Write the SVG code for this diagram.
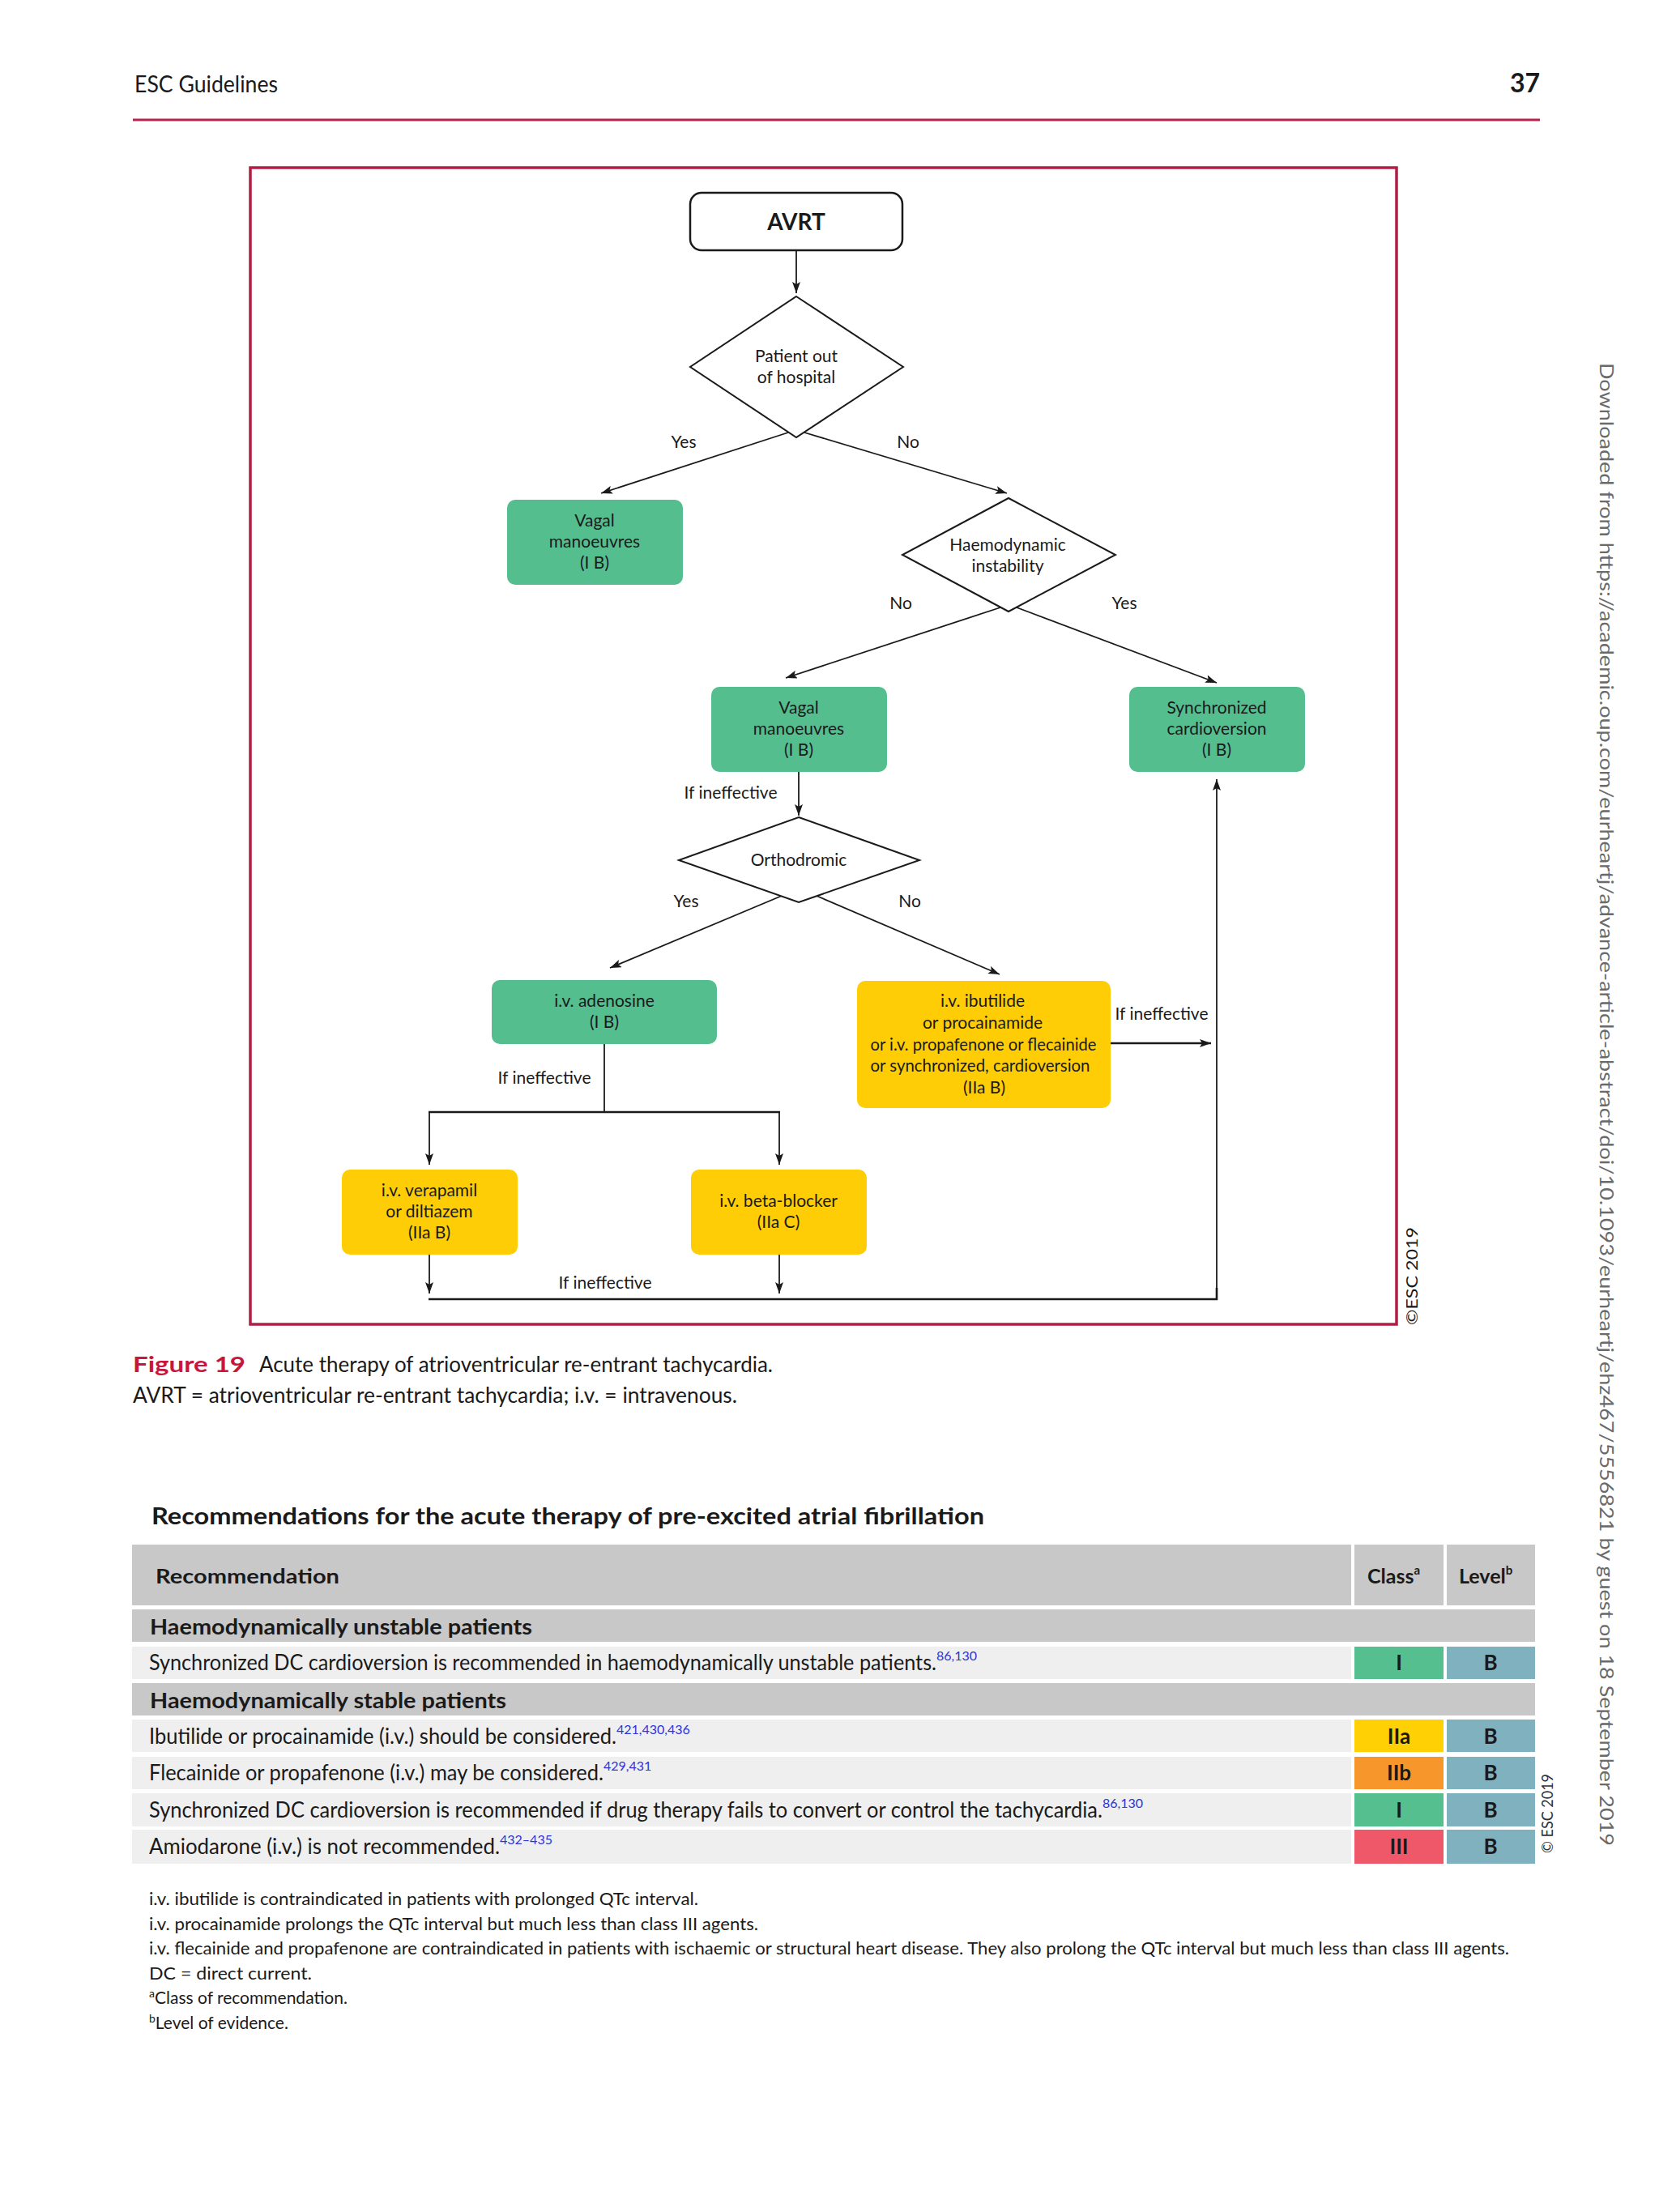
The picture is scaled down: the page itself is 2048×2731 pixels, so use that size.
<svg xmlns="http://www.w3.org/2000/svg" width="2048" height="2731" viewBox="0 0 2048 2731">
<defs>
<style>
text{font-family:Lato,"Liberation Sans",sans-serif;fill:#1a1a1a}
.ft{font-size:21px;text-anchor:middle}
.lbl{font-size:21px;text-anchor:middle}
.box-g{fill:#55be8f}
.box-y{fill:#fecd06}
.dia{fill:#fff;stroke:#1a1a1a;stroke-width:2}
.ln{fill:none;stroke:#1a1a1a;stroke-width:1.8}
.lnb{fill:none;stroke:#1a1a1a;stroke-width:2.6}
.row{font-size:26px}
.sec{font-size:27px;font-weight:bold}
.sup{font-size:16px;fill:#2b35d8}
.cell{font-size:26px;font-weight:bold;text-anchor:middle}
.fn{font-size:21px}
</style>
<marker id="ah" viewBox="0 0 14 10" refX="14" refY="5" markerWidth="14" markerHeight="10" markerUnits="userSpaceOnUse" orient="auto">
<path d="M0,0 L14,5 L0,10 L3,5 z" fill="#1a1a1a"/>
</marker>
</defs>
<rect width="2048" height="2731" fill="#fff"/>

<!-- page header -->
<text x="166" y="114" font-size="28" textLength="177" lengthAdjust="spacingAndGlyphs">ESC Guidelines</text>
<text x="1901" y="114" font-size="32" font-weight="bold" text-anchor="end">37</text>
<line x1="164" y1="148" x2="1901" y2="148" stroke="#b5234f" stroke-width="3"/>

<!-- watermark -->
<text transform="translate(1975,448) rotate(90)" font-size="23" style="fill:#6a6a6a" textLength="1831" lengthAdjust="spacingAndGlyphs">Downloaded from https://academic.oup.com/eurheartj/advance-article-abstract/doi/10.1093/eurheartj/ehz467/5556821 by guest on 18 September 2019</text>

<!-- figure frame -->
<rect x="309" y="207" width="1415" height="1428" fill="none" stroke="#b01e45" stroke-width="3.5"/>
<text transform="translate(1750,1636) rotate(-90)" font-size="20" textLength="121" lengthAdjust="spacingAndGlyphs">©ESC 2019</text>

<!-- connectors -->
<g id="connectors">
<line class="ln" x1="983" y1="309" x2="983" y2="362" marker-end="url(#ah)"/>
<line class="ln" x1="973" y1="534" x2="742" y2="609" marker-end="url(#ah)"/>
<line class="ln" x1="993" y1="534" x2="1243" y2="609" marker-end="url(#ah)"/>
<line class="ln" x1="1235" y1="750" x2="970" y2="837" marker-end="url(#ah)"/>
<line class="ln" x1="1255" y1="750" x2="1502" y2="843" marker-end="url(#ah)"/>
<line class="ln" x1="986" y1="953" x2="986" y2="1007" marker-end="url(#ah)"/>
<line class="ln" x1="965" y1="1106" x2="753" y2="1195" marker-end="url(#ah)"/>
<line class="ln" x1="1008" y1="1106" x2="1234" y2="1203" marker-end="url(#ah)"/>
<line class="ln" x1="746" y1="1289" x2="746" y2="1373"/>
<line class="lnb" x1="529" y1="1373" x2="963" y2="1373"/>
<line class="ln" x1="530" y1="1373" x2="530" y2="1438" marker-end="url(#ah)"/>
<line class="ln" x1="962" y1="1373" x2="962" y2="1438" marker-end="url(#ah)"/>
<line class="lnb" x1="1371" y1="1288" x2="1495" y2="1288" marker-end="url(#ah)"/>
<line class="ln" x1="530" y1="1549" x2="530" y2="1597" marker-end="url(#ah)"/>
<line class="ln" x1="962" y1="1549" x2="962" y2="1597" marker-end="url(#ah)"/>
<polyline class="lnb" points="529,1604 1502,1604 1502,1590"/>
<line class="ln" x1="1502" y1="1604" x2="1502" y2="962" marker-end="url(#ah)"/>
<text class="lbl" x="844" y="553">Yes</text>
<text class="lbl" x="1121" y="553">No</text>
<text class="lbl" x="1112" y="752">No</text>
<text class="lbl" x="1388" y="752">Yes</text>
<text class="lbl" x="902" y="986">If ineffective</text>
<text class="lbl" x="847" y="1120">Yes</text>
<text class="lbl" x="1123" y="1120">No</text>
<text class="lbl" x="1434" y="1259">If ineffective</text>
<text class="lbl" x="672" y="1338">If ineffective</text>
<text class="lbl" x="747" y="1591">If ineffective</text>
</g>

<!-- nodes -->
<g id="n-avrt">
<rect x="852" y="238" width="262" height="71" rx="14" fill="#fff" stroke="#1a1a1a" stroke-width="2.5"/>
<text x="983" y="284" font-size="28" font-weight="bold" text-anchor="middle">AVRT</text>
</g>
<g id="n-out-of-hospital">
<polygon class="dia" points="983,366 1115,453 983,540 852,453"/>
<text class="ft" x="983" y="447">Patient out</text>
<text class="ft" x="983" y="473">of hospital</text>
</g>
<g id="n-vagal1">
<rect class="box-g" x="626" y="617" width="217" height="105" rx="10"/>
<text class="ft" x="734" y="650">Vagal</text>
<text class="ft" x="734" y="676">manoeuvres</text>
<text class="ft" x="734" y="702">(I B)</text>
</g>
<g id="n-instability">
<polygon class="dia" points="1245,615 1377,685 1245,755 1114,685"/>
<text class="ft" x="1244" y="680">Haemodynamic</text>
<text class="ft" x="1244" y="706">instability</text>
</g>
<g id="n-vagal2">
<rect class="box-g" x="878" y="848" width="217" height="105" rx="10"/>
<text class="ft" x="986" y="881">Vagal</text>
<text class="ft" x="986" y="907">manoeuvres</text>
<text class="ft" x="986" y="933">(I B)</text>
</g>
<g id="n-sync">
<rect class="box-g" x="1394" y="848" width="217" height="105" rx="10"/>
<text class="ft" x="1502" y="881">Synchronized</text>
<text class="ft" x="1502" y="907">cardioversion</text>
<text class="ft" x="1502" y="933">(I B)</text>
</g>
<g id="n-orthodromic">
<polygon class="dia" points="986,1009 1135,1062 986,1114 838,1062"/>
<text class="ft" x="986" y="1069">Orthodromic</text>
</g>
<g id="n-adenosine">
<rect class="box-g" x="607" y="1210" width="278" height="79" rx="10"/>
<text class="ft" x="746" y="1243">i.v. adenosine</text>
<text class="ft" x="746" y="1269">(I B)</text>
</g>
<g id="n-ibutilide">
<rect class="box-y" x="1058" y="1211" width="313" height="157" rx="10"/>
<text class="ft" x="1213" y="1243">i.v. ibutilide</text>
<text class="ft" x="1213" y="1270">or procainamide</text>
<text class="ft" x="1214" y="1297" textLength="279" lengthAdjust="spacingAndGlyphs">or i.v. propafenone or flecainide</text>
<text class="ft" x="1210" y="1323" textLength="271" lengthAdjust="spacingAndGlyphs">or synchronized, cardioversion</text>
<text class="ft" x="1215" y="1350">(IIa B)</text>
</g>
<g id="n-verapamil">
<rect class="box-y" x="422" y="1444" width="217" height="105" rx="10"/>
<text class="ft" x="530" y="1477">i.v. verapamil</text>
<text class="ft" x="530" y="1503">or diltiazem</text>
<text class="ft" x="530" y="1529">(IIa B)</text>
</g>
<g id="n-betablocker">
<rect class="box-y" x="853" y="1444" width="217" height="105" rx="10"/>
<text class="ft" x="961" y="1490">i.v. beta-blocker</text>
<text class="ft" x="961" y="1516">(IIa C)</text>
</g>

<!-- caption -->
<text x="164" y="1694" font-size="27" font-weight="bold" style="fill:#c8153c" textLength="139" lengthAdjust="spacingAndGlyphs">Figure 19</text>
<text x="320" y="1694" font-size="26" textLength="634" lengthAdjust="spacingAndGlyphs">Acute therapy of atrioventricular re-entrant tachycardia.</text>
<text x="164" y="1732" font-size="26" textLength="746" lengthAdjust="spacingAndGlyphs">AVRT = atrioventricular re-entrant tachycardia; i.v. = intravenous.</text>

<!-- table -->
<g id="table">
<text x="187" y="1882" font-size="28" font-weight="bold" textLength="1028" lengthAdjust="spacingAndGlyphs">Recommendations for the acute therapy of pre-excited atrial fibrillation</text>
<rect x="163" y="1907" width="1505" height="75" fill="#c8c8c9"/>
<rect x="1672" y="1907" width="110" height="75" fill="#c8c8c9"/>
<rect x="1786" y="1907" width="109" height="75" fill="#c8c8c9"/>
<text x="192" y="1955" font-size="24" font-weight="bold" textLength="227" lengthAdjust="spacingAndGlyphs">Recommendation</text>
<text x="1688" y="1955" font-size="25" font-weight="bold">Class<tspan font-size="15" dy="-11">a</tspan></text>
<text x="1801" y="1955" font-size="25" font-weight="bold">Level<tspan font-size="15" dy="-11">b</tspan></text>

<rect x="163" y="1987" width="1732" height="40" fill="#c8c8c9"/>
<text class="sec" x="185" y="2018" textLength="472" lengthAdjust="spacingAndGlyphs">Haemodynamically unstable patients</text>

<rect x="163" y="2033" width="1505" height="40" fill="#efeff0"/>
<rect x="1672" y="2033" width="110" height="40" fill="#55bf8f"/>
<rect x="1786" y="2033" width="109" height="40" fill="#80b1bf"/>
<text class="row" x="184" y="2062"><tspan textLength="972" lengthAdjust="spacingAndGlyphs">Synchronized DC cardioversion is recommended in haemodynamically unstable patients.</tspan><tspan class="sup" dy="-12">86,130</tspan></text>
<text class="cell" x="1727" y="2062">I</text>
<text class="cell" x="1840" y="2062">B</text>

<rect x="163" y="2078" width="1732" height="40" fill="#c8c8c9"/>
<text class="sec" x="185" y="2109" textLength="440" lengthAdjust="spacingAndGlyphs">Haemodynamically stable patients</text>

<rect x="163" y="2123" width="1505" height="40" fill="#efeff0"/>
<rect x="1672" y="2123" width="110" height="40" fill="#ffd004"/>
<rect x="1786" y="2123" width="109" height="40" fill="#80b1bf"/>
<text class="row" x="184" y="2153"><tspan textLength="577" lengthAdjust="spacingAndGlyphs">Ibutilide or procainamide (i.v.) should be considered.</tspan><tspan class="sup" dy="-12">421,430,436</tspan></text>
<text class="cell" x="1727" y="2153">IIa</text>
<text class="cell" x="1840" y="2153">B</text>

<rect x="163" y="2169" width="1505" height="40" fill="#efeff0"/>
<rect x="1672" y="2169" width="110" height="40" fill="#f7962b"/>
<rect x="1786" y="2169" width="109" height="40" fill="#80b1bf"/>
<text class="row" x="184" y="2198"><tspan textLength="561" lengthAdjust="spacingAndGlyphs">Flecainide or propafenone (i.v.) may be considered.</tspan><tspan class="sup" dy="-12">429,431</tspan></text>
<text class="cell" x="1727" y="2198">IIb</text>
<text class="cell" x="1840" y="2198">B</text>

<rect x="163" y="2214" width="1505" height="41" fill="#efeff0"/>
<rect x="1672" y="2214" width="110" height="41" fill="#55bf8f"/>
<rect x="1786" y="2214" width="109" height="41" fill="#80b1bf"/>
<text class="row" x="184" y="2244"><tspan textLength="1177" lengthAdjust="spacingAndGlyphs">Synchronized DC cardioversion is recommended if drug therapy fails to convert or control the tachycardia.</tspan><tspan class="sup" dy="-12">86,130</tspan></text>
<text class="cell" x="1727" y="2244">I</text>
<text class="cell" x="1840" y="2244">B</text>

<rect x="163" y="2259" width="1505" height="42" fill="#efeff0"/>
<rect x="1672" y="2259" width="110" height="42" fill="#ef5868"/>
<rect x="1786" y="2259" width="109" height="42" fill="#80b1bf"/>
<text class="row" x="184" y="2289"><tspan textLength="433" lengthAdjust="spacingAndGlyphs">Amiodarone (i.v.) is not recommended.</tspan><tspan class="sup" dy="-12">432–435</tspan></text>
<text class="cell" x="1727" y="2289">III</text>
<text class="cell" x="1840" y="2289">B</text>

<text transform="translate(1917,2288) rotate(-90)" font-size="19" style="fill:#333" textLength="98" lengthAdjust="spacingAndGlyphs">© ESC 2019</text>
</g>

<!-- footnotes -->
<text class="fn" x="184" y="2352" textLength="678" lengthAdjust="spacingAndGlyphs">i.v. ibutilide is contraindicated in patients with prolonged QTc interval.</text>
<text class="fn" x="184" y="2383" textLength="752" lengthAdjust="spacingAndGlyphs">i.v. procainamide prolongs the QTc interval but much less than class III agents.</text>
<text class="fn" x="184" y="2413" textLength="1679" lengthAdjust="spacingAndGlyphs">i.v. flecainide and propafenone are contraindicated in patients with ischaemic or structural heart disease. They also prolong the QTc interval but much less than class III agents.</text>
<text class="fn" x="184" y="2444" textLength="201" lengthAdjust="spacingAndGlyphs">DC = direct current.</text>
<text class="fn" x="184" y="2474"><tspan font-size="14" dy="-8">a</tspan><tspan dy="8">Class of recommendation.</tspan></text>
<text class="fn" x="184" y="2505"><tspan font-size="14" dy="-8">b</tspan><tspan dy="8">Level of evidence.</tspan></text>
</svg>
